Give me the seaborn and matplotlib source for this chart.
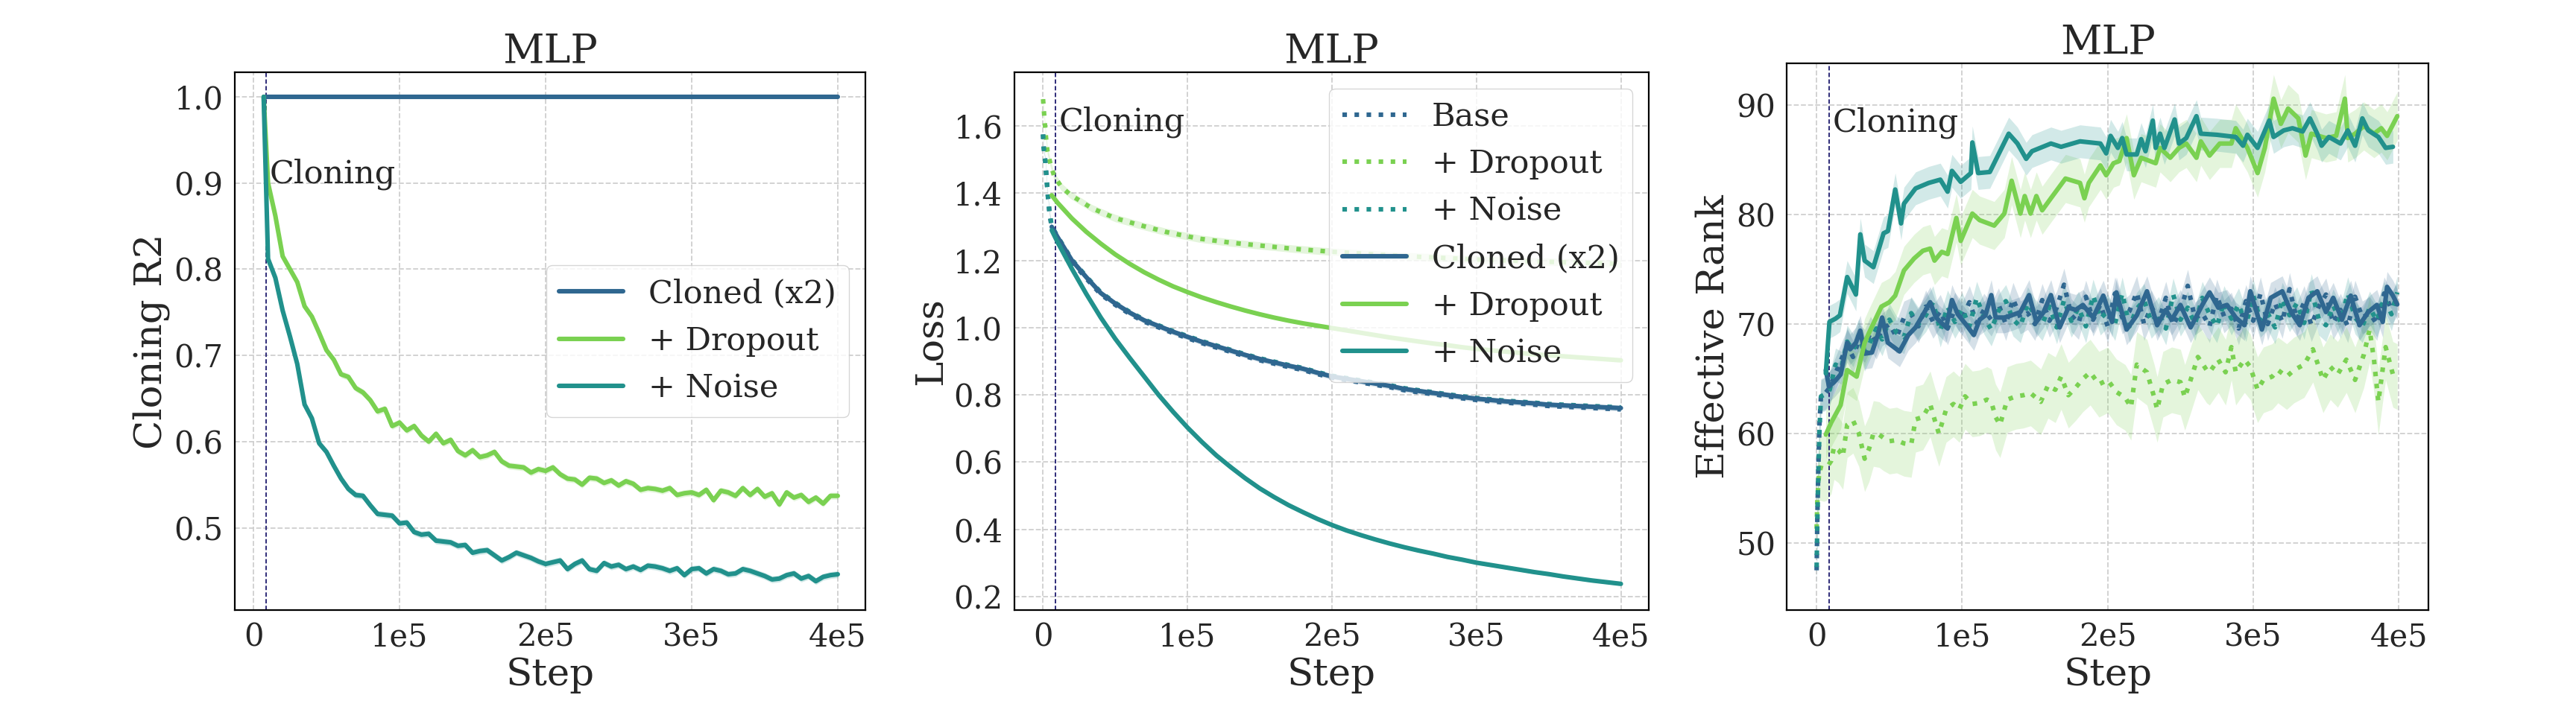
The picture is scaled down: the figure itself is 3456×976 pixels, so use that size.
import numpy as np
import matplotlib
matplotlib.use("Agg")
import matplotlib.pyplot as plt
import seaborn as sns

# ---------------- data ----------------
CLONE_STEP = 8700
XTICKS = [0, 100000, 200000, 300000, 400000]
XTICK_LABELS = ["0", "1e5", "2e5", "3e5", "4e5"]
TITLES = ["MLP", "MLP", "MLP"]
YLABELS = ["Cloning R2", "Loss", "Effective Rank"]
XLABEL = "Step"
LABEL_CLONED = "Cloned (x2)"
LABEL_DROPOUT = "+ Dropout"
LABEL_NOISE = "+ Noise"
LABEL_BASE = "Base"

COLOR_BLUE = "#2f6790"
COLOR_GREEN = "#7ad151"
COLOR_TEAL = "#21918c"
COLOR_VLINE = "#2e2b78"

# ---- Panel 1: Cloning R2 (steps in thousands) ----
P1_STEPS_K = [7] + list(range(10, 401, 5))
P1_CLONED_STEPS_K = [7, 100, 200, 300, 400]
P1_CLONED = [1.0, 1.0, 1.0, 1.0, 1.0]
P1_DROPOUT = [
    1.000, 0.900, 0.862, 0.815, 0.800, 0.785, 0.757, 0.745, 0.726, 0.706,
    0.695, 0.678, 0.675, 0.662, 0.657, 0.648, 0.635, 0.638, 0.618, 0.622,
    0.613, 0.618, 0.607, 0.600, 0.609, 0.598, 0.602, 0.589, 0.584, 0.590,
    0.582, 0.584, 0.588, 0.577, 0.572, 0.571, 0.570, 0.564, 0.568, 0.566,
    0.570, 0.562, 0.557, 0.556, 0.550, 0.558, 0.557, 0.552, 0.555, 0.549,
    0.554, 0.551, 0.544, 0.546, 0.545, 0.543, 0.546, 0.538, 0.540, 0.541,
    0.538, 0.544, 0.532, 0.543, 0.541, 0.537, 0.546, 0.538, 0.545, 0.536,
    0.540, 0.527, 0.541, 0.535, 0.538, 0.530, 0.535, 0.528, 0.537, 0.537,
]
P1_NOISE = [
    1.000, 0.812, 0.790, 0.752, 0.722, 0.690, 0.643, 0.627, 0.598, 0.588,
    0.572, 0.557, 0.545, 0.538, 0.537, 0.526, 0.516, 0.515, 0.514, 0.505,
    0.506, 0.495, 0.492, 0.493, 0.485, 0.484, 0.483, 0.479, 0.480, 0.471,
    0.473, 0.474, 0.468, 0.462, 0.466, 0.471, 0.468, 0.465, 0.461, 0.458,
    0.460, 0.462, 0.452, 0.458, 0.462, 0.452, 0.450, 0.459, 0.455, 0.457,
    0.452, 0.455, 0.451, 0.456, 0.455, 0.453, 0.450, 0.453, 0.445, 0.452,
    0.453, 0.447, 0.452, 0.450, 0.446, 0.447, 0.452, 0.450, 0.447, 0.444,
    0.440, 0.441, 0.445, 0.447, 0.441, 0.444, 0.438, 0.443, 0.445, 0.446,
]
P1_SPREAD = 0.004

# ---- Panel 2: Loss (steps in thousands) ----
P2_STEPS_K = [6] + list(range(10, 401, 10))
P2_CLONED = [
    1.300, 1.270, 1.200, 1.150, 1.103, 1.072, 1.045, 1.022, 1.005, 0.988,
    0.973, 0.958, 0.945, 0.932, 0.919, 0.907, 0.897, 0.887, 0.878, 0.866,
    0.855, 0.848, 0.841, 0.834, 0.827, 0.818, 0.812, 0.806, 0.800, 0.794,
    0.789, 0.785, 0.781, 0.778, 0.775, 0.771, 0.769, 0.767, 0.765, 0.763, 0.761,
]
P2_DROPOUT = [
    1.394, 1.372, 1.325, 1.285, 1.250, 1.218, 1.190, 1.165, 1.143, 1.123,
    1.106, 1.090, 1.076, 1.063, 1.051, 1.040, 1.030, 1.021, 1.013, 1.006,
    0.999, 0.992, 0.985, 0.978, 0.971, 0.965, 0.959, 0.953, 0.948, 0.942,
    0.937, 0.933, 0.929, 0.925, 0.921, 0.918, 0.915, 0.912, 0.909, 0.906, 0.903,
]
P2_NOISE = [
    1.290, 1.255, 1.175, 1.100, 1.030, 0.967, 0.910, 0.855, 0.800, 0.750,
    0.703, 0.660, 0.620, 0.585, 0.552, 0.522, 0.496, 0.472, 0.451, 0.431,
    0.413, 0.397, 0.383, 0.370, 0.358, 0.347, 0.337, 0.328, 0.318, 0.310,
    0.301, 0.294, 0.287, 0.280, 0.273, 0.267, 0.260, 0.254, 0.248, 0.243, 0.238,
]
P2_BASE_STEPS_K = [0, 0.5, 1.5, 2.5, 3.5, 4.5] + P2_STEPS_K
P2_BASE = [
    1.575, 1.535, 1.498, 1.440, 1.385, 1.340,
    1.298, 1.266, 1.196, 1.146, 1.099, 1.068, 1.041, 1.018, 1.001, 0.984,
    0.969, 0.954, 0.941, 0.928, 0.915, 0.903, 0.893, 0.883, 0.874, 0.862,
    0.851, 0.844, 0.837, 0.830, 0.823, 0.814, 0.808, 0.802, 0.796, 0.790,
    0.785, 0.781, 0.777, 0.774, 0.771, 0.767, 0.765, 0.763, 0.761, 0.759, 0.757,
]
P2_BASE_NOISE = [
    1.575, 1.535, 1.498, 1.440, 1.383, 1.342,
    1.302, 1.272, 1.202, 1.152, 1.105, 1.074, 1.047, 1.024, 1.007, 0.990,
    0.975, 0.960, 0.947, 0.934, 0.921, 0.909, 0.899, 0.889, 0.880, 0.868,
    0.857, 0.850, 0.843, 0.836, 0.829, 0.820, 0.814, 0.808, 0.802, 0.796,
    0.791, 0.787, 0.783, 0.780, 0.777, 0.773, 0.771, 0.769, 0.767, 0.765, 0.763,
]
P2_BASE_DROPOUT_STEPS_K = [0, 1, 2, 3, 5, 7.5, 12.5, 19, 34, 50, 68, 85, 108,
                           130, 173, 200, 250, 300, 350, 400]
P2_BASE_DROPOUT = [1.680, 1.620, 1.568, 1.527, 1.490, 1.453, 1.420, 1.395,
                   1.355, 1.326, 1.304, 1.285, 1.265, 1.253, 1.235, 1.226,
                   1.213, 1.203, 1.196, 1.190]
P2_SPREAD_SOLID = 0.005
P2_SPREAD_DOTTED = 0.011

# ---- Panel 3: Effective rank (steps in units of 1e5) ----
P3_NOISE_STEPS = [0.063, 0.088, 0.13, 0.16, 0.21, 0.27, 0.30, 0.33, 0.39, 0.46, 0.49, 0.54, 0.58, 0.60,
                  0.68, 0.77, 0.85, 0.90, 0.93, 0.99, 1.06, 1.07, 1.11, 1.19, 1.32, 1.38, 1.44, 1.48,
                  1.61, 1.68, 1.81, 1.95, 1.99, 2.02, 2.07, 2.10, 2.13, 2.20, 2.23, 2.26, 2.31, 2.33,
                  2.36, 2.39, 2.46, 2.49, 2.54, 2.61, 2.64, 2.75, 2.88, 2.93, 2.96, 3.03, 3.11, 3.14,
                  3.21, 3.27, 3.34, 3.39, 3.44, 3.47, 3.52, 3.60, 3.65, 3.70, 3.75, 3.79, 3.86, 3.91, 3.96]
P3_NOISE = [65.5, 70.2, 70.5, 70.8, 74.3, 72.7, 78.2, 75.8, 75.2, 78.3, 78.5, 82.3, 79.2, 81.0,
            82.4, 82.9, 83.2, 82.1, 84.0, 83.0, 83.8, 86.6, 83.8, 83.9, 87.4, 86.5, 85.1, 85.8,
            86.5, 86.2, 86.7, 86.5, 85.6, 87.2, 86.1, 87.0, 85.5, 85.5, 86.9, 85.8, 88.6, 86.1,
            87.4, 86.1, 88.7, 86.5, 87.0, 89.0, 87.4, 87.3, 87.1, 86.3, 87.3, 86.1, 88.6, 87.1,
            87.7, 87.9, 87.6, 88.8, 87.4, 86.3, 87.1, 86.5, 87.7, 86.3, 88.8, 87.7, 87.1, 86.1, 86.2]
P3_DROPOUT_STEPS = [0.063, 0.10, 0.165, 0.21, 0.275, 0.33, 0.36, 0.445, 0.50, 0.54, 0.60, 0.67, 0.73,
                    0.78, 0.81, 0.86, 0.90, 0.96, 0.99, 1.07, 1.12, 1.22, 1.29, 1.34, 1.40, 1.43, 1.47,
                    1.51, 1.55, 1.61, 1.71, 1.81, 1.84, 1.87, 1.95, 1.99, 2.04, 2.08, 2.13, 2.18, 2.23,
                    2.33, 2.36, 2.43, 2.49, 2.54, 2.61, 2.64, 2.70, 2.77, 2.85, 2.88, 2.96, 3.03, 3.08,
                    3.14, 3.19, 3.24, 3.31, 3.36, 3.40, 3.50, 3.57, 3.63, 3.65, 3.70, 3.76, 3.83, 3.88,
                    3.92, 3.99]
P3_DROPOUT = [59.9, 61.0, 62.6, 65.8, 65.2, 68.3, 69.2, 71.6, 72.0, 72.6, 74.9, 76.0, 76.7,
              76.9, 75.8, 76.6, 76.4, 79.7, 77.6, 80.1, 79.5, 79.0, 80.1, 83.1, 80.1, 81.7, 80.1,
              81.7, 80.4, 81.5, 83.3, 82.9, 81.5, 82.9, 84.5, 83.6, 84.7, 84.9, 87.0, 83.6, 85.2,
              84.7, 86.1, 85.2, 86.1, 86.5, 85.2, 86.7, 85.4, 86.5, 86.5, 87.9, 86.1, 83.8, 86.1,
              90.6, 88.3, 89.7, 88.8, 85.4, 87.4, 87.0, 87.2, 90.6, 87.0, 87.4, 88.1, 87.4, 87.9,
              87.2, 89.0]
P3_CLONED_STEPS = [0.063, 0.085, 0.12, 0.165, 0.21, 0.23, 0.27, 0.30, 0.33, 0.38, 0.42, 0.45, 0.49,
                   0.53, 0.57, 0.63, 0.68, 0.72, 0.78, 0.82, 0.89, 0.93, 0.97, 1.03, 1.08, 1.12, 1.16,
                   1.20, 1.23, 1.29, 1.34, 1.40, 1.46, 1.51, 1.56, 1.61, 1.67, 1.73, 1.78, 1.83, 1.90,
                   1.97, 2.03, 2.06, 2.13, 2.20, 2.27, 2.34, 2.40, 2.44, 2.50, 2.57, 2.65, 2.70, 2.76,
                   2.82, 2.88, 2.94, 2.98, 3.06, 3.12, 3.20, 3.26, 3.32, 3.38, 3.44, 3.50, 3.55, 3.61,
                   3.67, 3.73, 3.79, 3.85, 3.89, 3.92, 3.96, 3.99]
P3_CLONED = [65.8, 64.3, 64.7, 65.4, 68.3, 67.7, 68.3, 69.4, 67.3, 67.4, 69.0, 70.6, 68.3,
             67.9, 67.5, 69.0, 69.7, 70.6, 72.0, 70.6, 69.7, 72.2, 70.9, 69.9, 69.0, 70.4, 70.8,
             72.65, 70.6, 70.6, 70.8, 71.1, 72.65, 70.2, 71.1, 72.65, 69.7, 71.5, 71.3, 71.75, 70.6,
             72.6, 70.2, 72.9, 69.5, 70.8, 73.0, 69.9, 71.3, 70.4, 71.75, 69.7, 71.75, 72.9, 71.5,
             71.75, 70.6, 69.9, 73.0, 69.5, 72.4, 73.0, 71.1, 69.9, 72.4, 73.0, 71.1, 72.4, 70.4,
             72.6, 69.9, 71.1, 71.75, 70.2, 73.4, 72.6, 71.8]
P3_BASE_STEPS = [0, 0.005, 0.012, 0.02, 0.03, 0.06, 0.09, 0.13, 0.17, 0.21, 0.25, 0.29, 0.33, 0.37,
                 0.41, 0.45, 0.50, 0.55, 0.60, 0.65, 0.70, 0.75, 0.80, 0.85, 0.90, 0.95, 1.00, 1.05,
                 1.10, 1.15, 1.20, 1.25, 1.30, 1.35, 1.40, 1.45, 1.50, 1.55, 1.60, 1.65, 1.70, 1.75,
                 1.80, 1.85, 1.90, 1.95, 2.00, 2.05, 2.10, 2.15, 2.20, 2.25, 2.30, 2.35, 2.40, 2.45,
                 2.50, 2.55, 2.60, 2.65, 2.70, 2.75, 2.80, 2.85, 2.90, 2.95, 3.00, 3.05, 3.10, 3.15,
                 3.20, 3.25, 3.30, 3.35, 3.40, 3.45, 3.50, 3.55, 3.60, 3.65, 3.70, 3.75, 3.80, 3.85,
                 3.90, 3.95, 3.99]
P3_BASE = [47.5, 52.5, 57.0, 61.0, 63.5, 63.7, 64.2, 65.5, 66.8, 68.0, 67.0, 68.5, 68.0, 69.2,
           68.3, 69.5, 70.0, 68.8, 70.6, 70.9, 69.8, 71.6, 70.2, 71.2, 69.6, 71.4, 70.5, 72.0,
           70.1, 71.3, 70.4, 71.8, 70.0, 72.3, 70.6, 71.0, 70.0, 72.2, 70.3, 71.5, 73.6, 70.8,
           70.1, 72.5, 70.4, 71.8, 69.8, 72.8, 70.6, 71.2, 72.9, 70.0, 71.6, 70.3, 72.4, 69.9,
           71.2, 73.5, 70.5, 71.0, 69.8, 72.6, 70.7, 71.4, 69.6, 72.1, 70.3, 72.8, 70.0, 71.9,
           70.2, 73.2, 70.4, 72.0, 69.9, 71.6, 72.7, 70.1, 71.3, 69.8, 72.5, 70.6, 71.0, 70.0,
           72.8, 71.4, 72.3]
P3_BASE_NOISE = [47.8, 52.0, 56.5, 60.5, 63.4, 63.6, 64.0, 66.3, 66.0, 68.4, 67.6, 69.0, 67.2, 68.4,
                 69.6, 68.6, 70.4, 69.2, 68.8, 71.0, 70.0, 70.8, 72.0, 69.4, 71.6, 70.2, 71.4, 69.8,
                 72.4, 70.6, 69.5, 71.2, 72.1, 70.4, 69.8, 71.9, 70.8, 70.0, 71.6, 69.7, 72.2, 70.3,
                 71.5, 69.8, 72.6, 70.5, 71.2, 70.0, 72.8, 69.8, 71.4, 72.2, 70.2, 71.0, 69.6, 72.7,
                 70.4, 71.5, 70.0, 72.4, 70.9, 69.8, 72.0, 70.5, 71.8, 69.9, 72.6, 70.3, 71.0, 69.7,
                 72.3, 70.8, 71.9, 70.1, 73.1, 70.5, 69.9, 71.7, 70.2, 72.8, 70.6, 69.8, 71.5, 70.3,
                 72.4, 70.9, 72.9]
P3_BASE_DROPOUT_STEPS = [0, 0.005, 0.012, 0.02, 0.05, 0.07, 0.10, 0.12, 0.15, 0.18, 0.21, 0.25, 0.29,
                         0.33, 0.36, 0.39, 0.43, 0.46, 0.50, 0.55, 0.60, 0.65, 0.68, 0.73, 0.78, 0.81,
                         0.84, 0.89, 0.94, 0.98, 1.02, 1.07, 1.12, 1.17, 1.20, 1.23, 1.26, 1.31, 1.37,
                         1.42, 1.47, 1.54, 1.59, 1.64, 1.68, 1.73, 1.78, 1.83, 1.88, 1.94, 2.00, 2.06,
                         2.12, 2.16, 2.20, 2.27, 2.32, 2.34, 2.38, 2.44, 2.50, 2.53, 2.57, 2.62, 2.68,
                         2.70, 2.76, 2.81, 2.85, 2.88, 2.94, 2.98, 3.03, 3.07, 3.13, 3.17, 3.23, 3.28,
                         3.35, 3.41, 3.48, 3.53, 3.58, 3.64, 3.70, 3.76, 3.80, 3.83, 3.86, 3.91, 3.96, 3.99]
P3_BASE_DROPOUT = [51.3, 54.0, 55.4, 56.9, 56.8, 56.9, 57.5, 58.8, 58.5, 57.9, 60.8, 61.2, 60.0,
                   57.7, 58.6, 60.0, 59.9, 59.6, 59.3, 59.4, 59.1, 59.0, 61.3, 61.5, 62.7, 61.3,
                   60.0, 62.2, 62.7, 62.2, 63.4, 62.7, 62.8, 63.1, 62.9, 61.5, 60.8, 63.1, 63.4,
                   63.5, 63.7, 62.9, 64.4, 64.0, 65.2, 63.5, 64.2, 65.0, 65.6, 64.5, 64.9, 63.8,
                   63.3, 62.4, 66.3, 65.6, 63.3, 62.2, 64.5, 64.9, 64.7, 63.3, 64.9, 67.0, 65.8,
                   65.6, 66.75, 65.6, 67.9, 65.6, 66.75, 66.1, 64.0, 64.9, 65.2, 65.8, 65.2, 65.8,
                   66.3, 67.7, 64.9, 66.1, 65.4, 66.75, 64.9, 67.2, 69.5, 66.75, 62.9, 67.9, 65.4, 65.2]
P3_SPREAD_NOISE = 1.5
P3_SPREAD_DROPOUT = 2.2
P3_SPREAD_CLONED = 1.4
P3_SPREAD_BASE = 1.5
P3_SPREAD_BASE_DROPOUT = 3.0

# ---------------- style ----------------
sns.set_theme(style="whitegrid", rc={
    "grid.linestyle": "--",
    "grid.color": "#cfcfcf",
    "grid.linewidth": 1.3,
    "axes.edgecolor": "black",
    "axes.linewidth": 1.6,
})
plt.rcParams["font.family"] = ["DejaVu Serif", "DejaVu Sans"]
plt.rcParams["text.color"] = "#262626"
plt.rcParams["axes.labelcolor"] = "#262626"

TICK_FS = 30
LABEL_FS = 37
TITLE_FS = 39
LEGEND_FS = 31
ANNOT_FS = 31
LW = 4.4

fig = plt.figure(figsize=(34.56, 9.76), dpi=100)
axes_pos = [
    [0.09115, 0.16086, 0.24479, 0.73975],
    [0.39372, 0.16086, 0.24624, 0.73975],
    [0.69369, 0.16086, 0.24902, 0.75205],
]
axes = [fig.add_axes(p) for p in axes_pos]


def draw(ax, x, y, color, style, label, spread):
    x = np.asarray(x, dtype=float)
    y = np.asarray(y, dtype=float)
    if spread:
        ax.fill_between(x, y - spread, y + spread, color=color, alpha=0.2, lw=0)
    sns.lineplot(x=x, y=y, ax=ax, color=color, linestyle=style, linewidth=LW,
                 label=label, errorbar=None, sort=False)


k = 1000.0
e5 = 1e5

# Panel 1
ax = axes[0]
draw(ax, np.array(P1_CLONED_STEPS_K) * k, P1_CLONED, COLOR_BLUE, "-", LABEL_CLONED, 0)
draw(ax, np.array(P1_STEPS_K) * k, P1_DROPOUT, COLOR_GREEN, "-", LABEL_DROPOUT, P1_SPREAD)
draw(ax, np.array(P1_STEPS_K) * k, P1_NOISE, COLOR_TEAL, "-", LABEL_NOISE, P1_SPREAD)
ax.set_ylim(0.4045, 1.0285)
ax.set_yticks([0.5, 0.6, 0.7, 0.8, 0.9, 1.0])
ax.legend(loc="center right", fontsize=LEGEND_FS, handlelength=2.0)

# Panel 2
ax = axes[1]
draw(ax, np.array(P2_BASE_STEPS_K) * k, P2_BASE, COLOR_BLUE, ":", LABEL_BASE, P2_SPREAD_SOLID)
draw(ax, np.array(P2_BASE_DROPOUT_STEPS_K) * k, P2_BASE_DROPOUT, COLOR_GREEN, ":", LABEL_DROPOUT, P2_SPREAD_DOTTED)
draw(ax, np.array(P2_BASE_STEPS_K) * k, P2_BASE_NOISE, COLOR_TEAL, ":", LABEL_NOISE, P2_SPREAD_SOLID)
draw(ax, np.array(P2_STEPS_K) * k, P2_CLONED, COLOR_BLUE, "-", LABEL_CLONED, P2_SPREAD_SOLID)
draw(ax, np.array(P2_STEPS_K) * k, P2_DROPOUT, COLOR_GREEN, "-", LABEL_DROPOUT, P2_SPREAD_SOLID)
draw(ax, np.array(P2_STEPS_K) * k, P2_NOISE, COLOR_TEAL, "-", LABEL_NOISE, P2_SPREAD_SOLID)
ax.set_ylim(0.160, 1.760)
ax.set_yticks([0.2, 0.4, 0.6, 0.8, 1.0, 1.2, 1.4, 1.6])
ax.legend(loc="upper right", fontsize=LEGEND_FS, handlelength=2.0)

# Panel 3
ax = axes[2]
draw(ax, np.array(P3_BASE_STEPS) * e5, P3_BASE, COLOR_BLUE, ":", LABEL_BASE, P3_SPREAD_BASE)
draw(ax, np.array(P3_BASE_DROPOUT_STEPS) * e5, P3_BASE_DROPOUT, COLOR_GREEN, ":", LABEL_DROPOUT, P3_SPREAD_BASE_DROPOUT)
draw(ax, np.array(P3_BASE_STEPS) * e5, P3_BASE_NOISE, COLOR_TEAL, ":", LABEL_NOISE, P3_SPREAD_BASE)
draw(ax, np.array(P3_CLONED_STEPS) * e5, P3_CLONED, COLOR_BLUE, "-", LABEL_CLONED, P3_SPREAD_CLONED)
draw(ax, np.array(P3_DROPOUT_STEPS) * e5, P3_DROPOUT, COLOR_GREEN, "-", LABEL_DROPOUT, P3_SPREAD_DROPOUT)
draw(ax, np.array(P3_NOISE_STEPS) * e5, P3_NOISE, COLOR_TEAL, "-", LABEL_NOISE, P3_SPREAD_NOISE)
ax.set_ylim(43.87, 93.83)
ax.set_yticks([50, 60, 70, 80, 90])
leg = ax.get_legend()
if leg is not None:
    leg.remove()

annot_y = [0.9, 1.587, 87.6]
xlims = [(-12755, 418900), (-19960, 419160), (-20400, 420400)]
for i, ax in enumerate(axes):
    ax.set_xlim(*xlims[i])
    ax.set_xticks(XTICKS)
    ax.set_xticklabels(XTICK_LABELS)
    ax.tick_params(axis="both", labelsize=TICK_FS, length=0, pad=11, colors="#262626")
    ax.set_xlabel(XLABEL, fontsize=LABEL_FS)
    ax.set_ylabel(YLABELS[i], fontsize=LABEL_FS)
    ax.set_title(TITLES[i], fontsize=TITLE_FS, pad=9)
    ax.axvline(CLONE_STEP, color=COLOR_VLINE, linestyle=(0, (3, 1.6)), linewidth=1.4, zorder=1.5)
    ax.text(CLONE_STEP + 2200, annot_y[i], "Cloning", fontsize=ANNOT_FS,
            ha="left", va="baseline", color="#262626")
    for s in ax.spines.values():
        s.set_color("black")
        s.set_linewidth(1.6)
    ax.grid(True, which="major")

fig.savefig("out.png", dpi=100)
